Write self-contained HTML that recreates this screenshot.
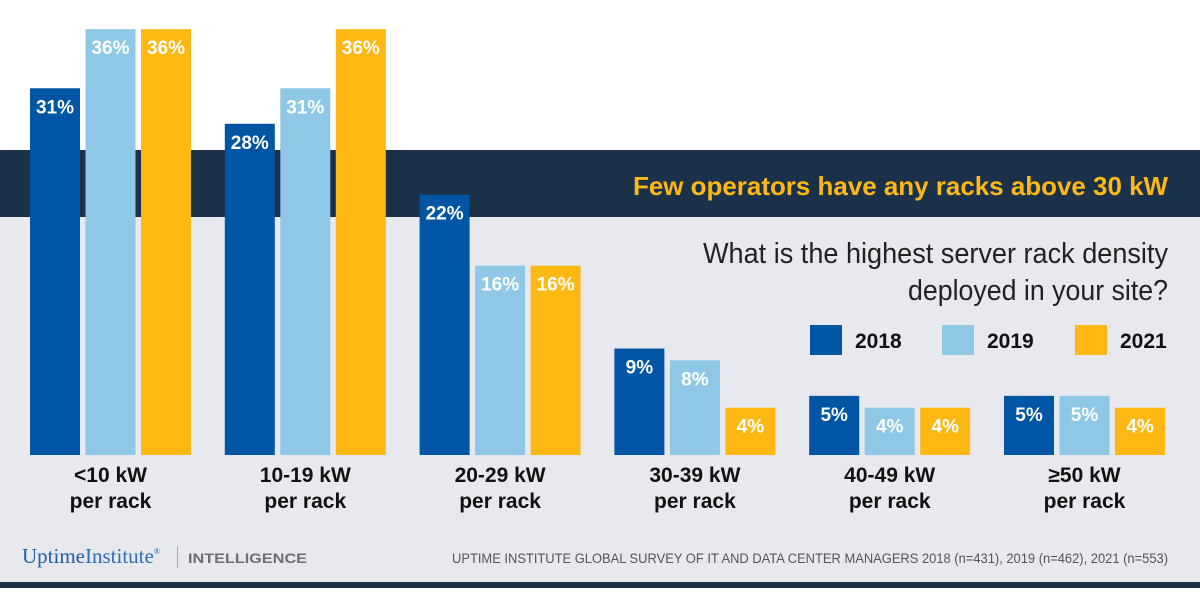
<!DOCTYPE html>
<html><head><meta charset="utf-8"><style>
body{margin:0;width:1200px;height:588px;overflow:hidden;font-family:"Liberation Sans",sans-serif;}
</style></head><body>
<svg id="chart" width="1200" height="588" xmlns="http://www.w3.org/2000/svg" font-family="Liberation Sans, sans-serif">
<rect x="0" y="0" width="1200" height="150" fill="#ffffff"/>
<rect x="0" y="150" width="1200" height="438" fill="#e7e9ee"/>
<rect x="0" y="150" width="1200" height="67" fill="#1b3049"/>
<text x="633" y="195" textLength="535" lengthAdjust="spacingAndGlyphs" font-size="26" font-weight="bold" fill="#fdb913">Few operators have any racks above 30 kW</text>
<text x="703" y="263" textLength="465" lengthAdjust="spacingAndGlyphs" font-size="29" fill="#222">What is the highest server rack density</text>
<text x="908" y="300" textLength="260" lengthAdjust="spacingAndGlyphs" font-size="29" fill="#222">deployed in your site?</text>
<g id="bars"></g>
<g id="legend"></g>
<text x="22" y="563" font-family="Liberation Serif, serif" font-size="21" fill="#1f5fa8">Uptime<tspan fill="#2c6db5">Institute</tspan><tspan font-size="8" dy="-9">®</tspan></text>
<rect x="177" y="546" width="1" height="22" fill="#aab"/>
<text x="188" y="563" textLength="119" lengthAdjust="spacingAndGlyphs" font-size="14" font-weight="bold" fill="#6b6f75">INTELLIGENCE</text>
<text x="452" y="563" textLength="716" lengthAdjust="spacingAndGlyphs" font-size="13.5" fill="#555">UPTIME INSTITUTE GLOBAL SURVEY OF IT AND DATA CENTER MANAGERS 2018 (n=431), 2019 (n=462), 2021 (n=553)</text>
<rect x="0" y="582" width="1200" height="6" fill="#1b3049"/>
</svg>
<script>
const categories=["<10 kW","10-19 kW","20-29 kW","30-39 kW","40-49 kW","\u226550 kW"];
const years=["2018","2019","2021"];
const v2018=[31,28,22,9,5,5];
const v2019=[36,31,16,8,4,5];
const v2021=[36,36,16,4,4,4];
const colors=["#0055a4","#8fc8e6","#fdb813"];
const series=[v2018,v2019,v2021];
const NS="http://www.w3.org/2000/svg";
const baseY=455, pxPer=11.83;
function y(v){return baseY-v*pxPer;}
function gx(i){return 30+i*194.8;}
const g=document.getElementById('bars');
function mk(t,a){const e=document.createElementNS(NS,t);for(const k in a)e.setAttribute(k,a[k]);return e;}
categories.forEach((c,i)=>{
  series.forEach((s,j)=>{
    const x=gx(i)+j*55.5;
    const r=mk('rect',{x:x,y:y(s[i]),width:50,height:baseY-y(s[i]),fill:colors[j]});
    
    
    g.appendChild(r);
    const t=mk('text',{x:x+25,y:y(s[i])+25,'text-anchor':'middle','font-size':'19','font-weight':'bold',fill:'#fff'});
    
    
    t.textContent=s[i]+'%';g.appendChild(t);
  });
  const cx=gx(i)+80.5;
  const l=mk('text',{x:cx,'text-anchor':'middle','font-size':'21','font-weight':'bold',fill:'#111'});
  
  
  const t1=mk('tspan',{x:cx,y:482});t1.textContent=c;
  const t2=mk('tspan',{x:cx,y:508});t2.textContent='per rack';
  l.appendChild(t1);l.appendChild(t2);g.appendChild(l);
});
const lg=document.getElementById('legend');
const lx=[810,942,1075];
years.forEach((yr,j)=>{
  const r=mk('rect',{x:lx[j],y:325,width:32,height:30,fill:colors[j]});
  
  
  lg.appendChild(r);
  const t=mk('text',{x:lx[j]+45,y:348,'font-size':'21','font-weight':'bold',fill:'#111'});
  
  
  t.textContent=yr;lg.appendChild(t);
});
</script>
</body></html>
